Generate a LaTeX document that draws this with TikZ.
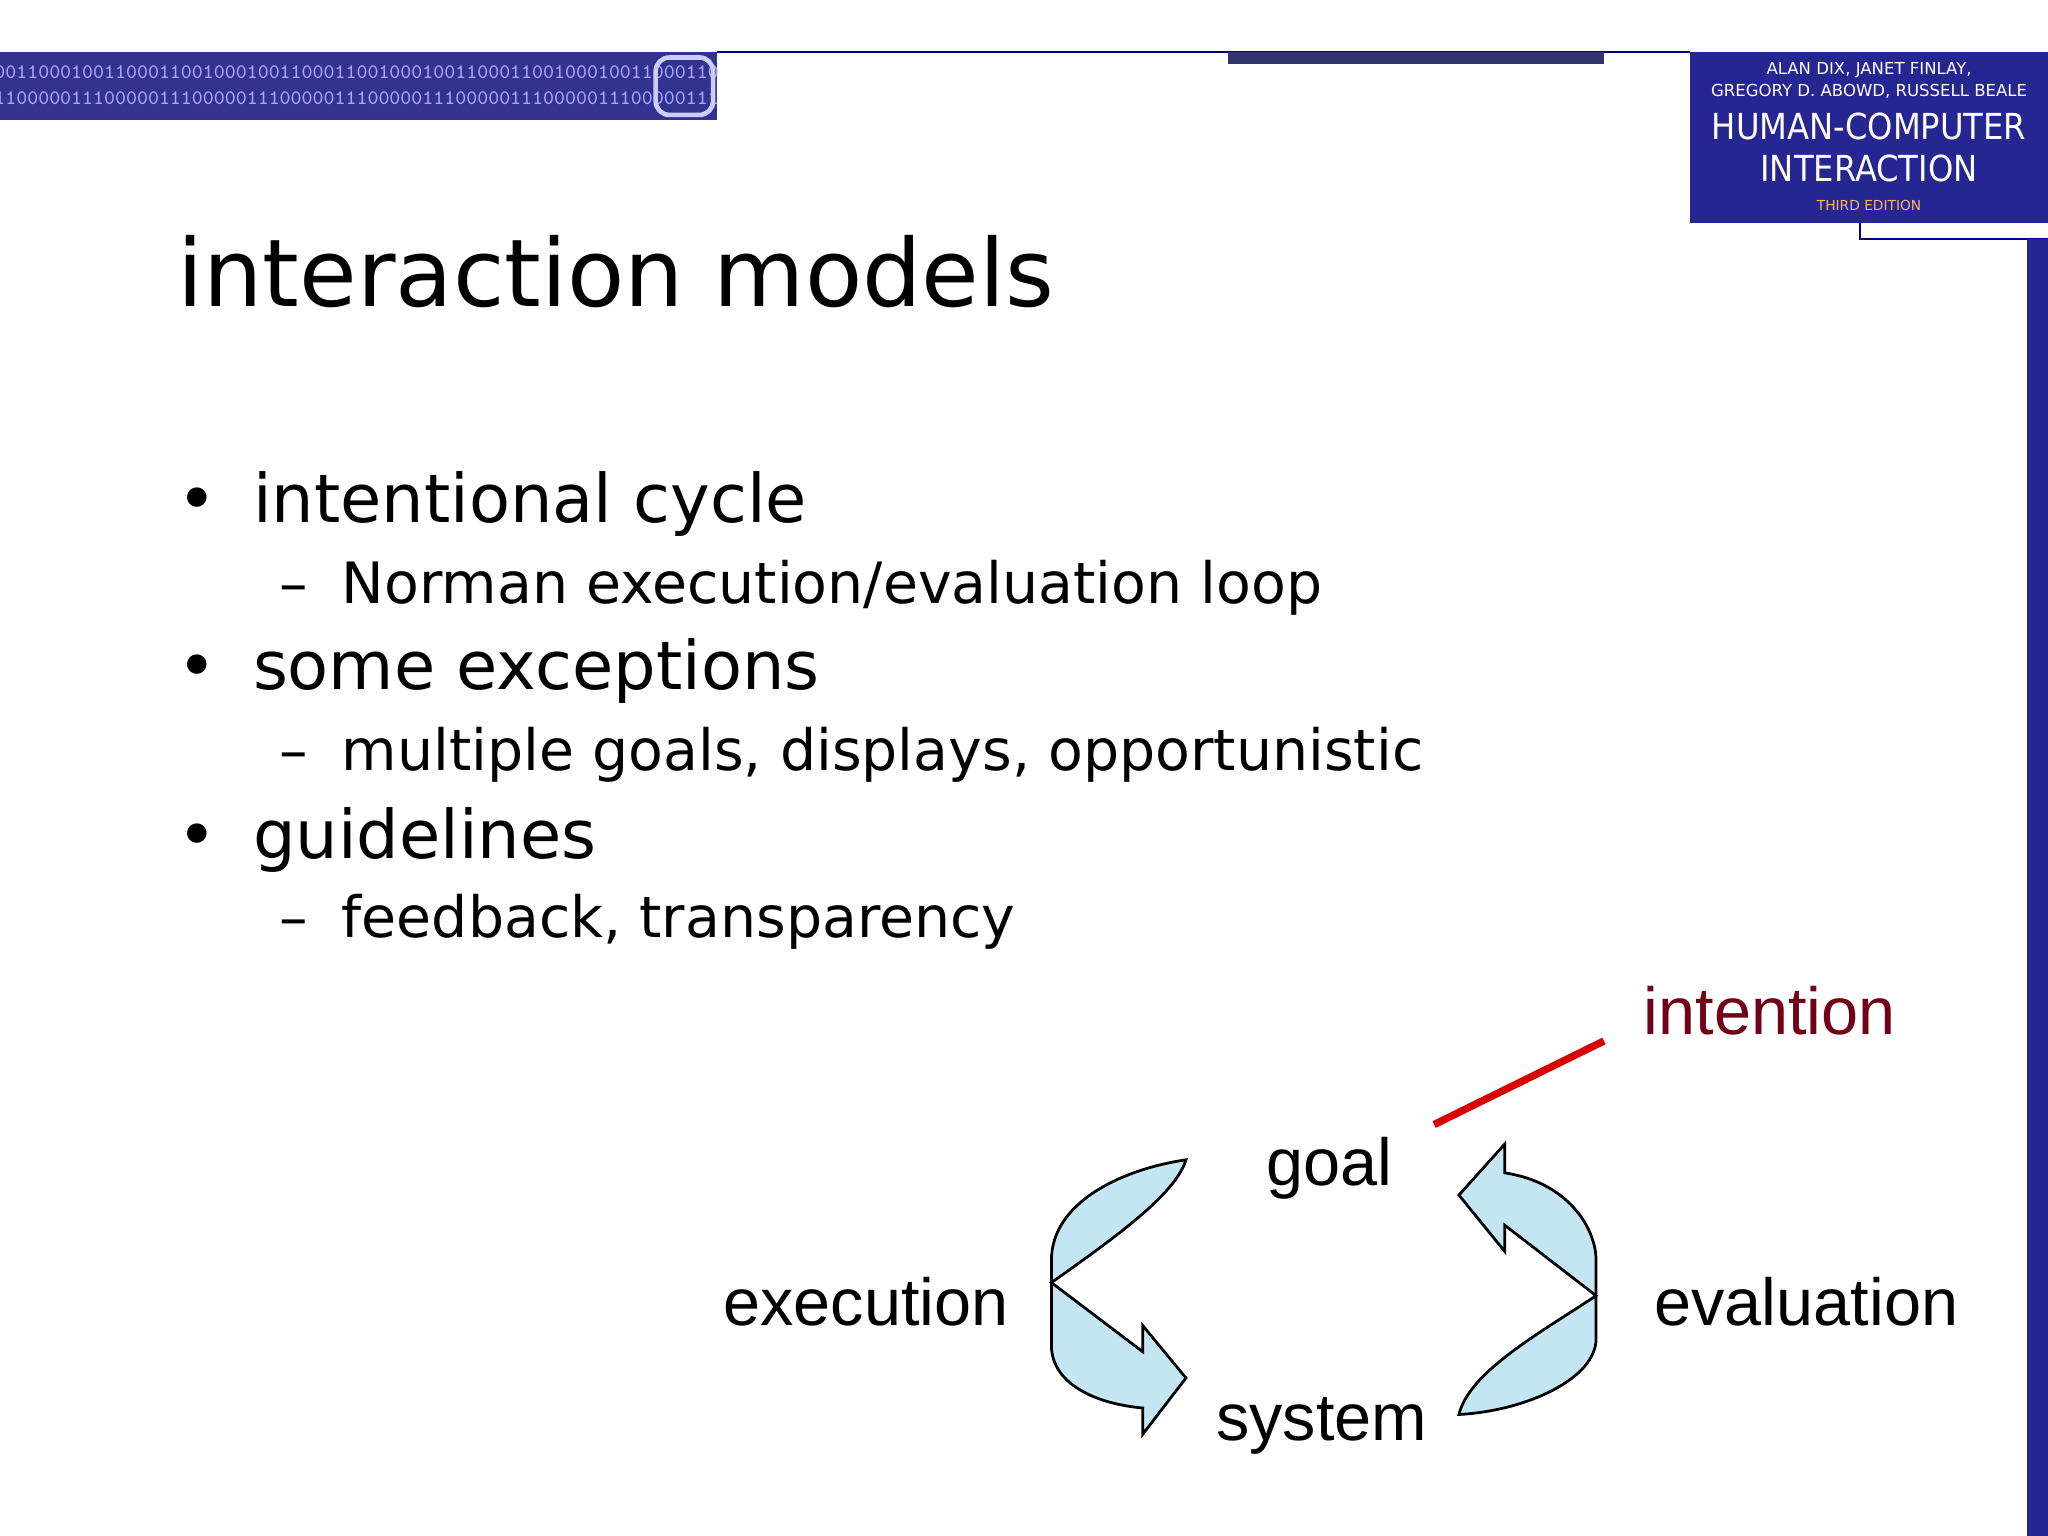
\documentclass[tikz,border=0pt]{standalone}
\usepackage{fontspec}
\setmainfont{DejaVu Sans}
\newfontfamily\arial{Liberation Sans}
\newfontfamily\cond{DejaVu Sans Condensed}
\begin{document}
\begin{tikzpicture}[x=0.01cm,y=-0.01cm,
  txt/.style={anchor=base west,inner sep=0pt},
  main/.style={txt,font=\fontsize{14.6}{16}\selectfont},
  sub/.style={txt,font=\fontsize{12.4}{14}\selectfont},
  lab/.style={anchor=base,inner sep=0pt,font=\arial\fontsize{14.5}{16}\selectfont},
  cyc/.style={draw=black,line width=0.6pt,fill=cyan!22!white!92!gray,line join=miter}]
\useasboundingbox (0,0) rectangle (1568,1176);
\fill[white] (0,0) rectangle (1568,1176);
% banner
\fill[blue!45!black!80] (0,40) rectangle (549,92);
\begin{scope}
\clip (0,40) rectangle (549,92);
\node[txt,text=blue!35!white,font=\ttfamily\fontsize{4.5}{5}\selectfont] (b1) at (-5,60) {0011000100110001100100010011000110010001001100011001000100110001100100010011000110010001};
\node[txt,text=blue!35!white,font=\ttfamily\fontsize{4.5}{5}\selectfont] (b2) at (-5,80) {1100000111000001110000011100000111000001110000011100000111000001110000011100000111000001};
\end{scope}
\draw[white!80!blue,line width=1pt,rounded corners=3pt] (502,44) rectangle (546,88);
\draw[blue!50!black] (549,40) -- (1294,40);
\fill[blue!30!black!80] (940,40) rectangle (1228,49);
% book cover
\fill[blue!50!black!85] (1294,40) rectangle (1568,171);
\node[anchor=center,text=white,font=\fontsize{3.6}{4}\selectfont] (c1) at (1431,54) {ALAN DIX, JANET FINLAY,};
\node[anchor=center,text=white,font=\fontsize{3.6}{4}\selectfont] (c2) at (1431,70) {GREGORY D. ABOWD, RUSSELL BEALE};
\node[anchor=center,text=white,font=\cond\fontsize{7.8}{9}\selectfont] (c3) at (1431,97) {HUMAN-COMPUTER};
\node[anchor=center,text=white,font=\cond\fontsize{7.8}{9}\selectfont] (c4) at (1431,129) {INTERACTION};
\node[anchor=center,text=orange!60!white,font=\fontsize{3}{4}\selectfont] (c5) at (1431,157) {THIRD EDITION};
\draw[blue!50!black] (1424,171) -- (1424,183) -- (1568,183);
\fill[blue!50!black!85] (1552,183) rectangle (1568,1176);
% title
\node[txt,font=\fontsize{20.4}{22}\selectfont] (title) at (135,235) {interaction models};
% bullets
\node[main] (d1) at (135,400) {•};
\node[main] (t1) at (193,400) {intentional cycle};
\node[sub] (s1) at (213,462) {–};
\node[sub] (u1) at (261,462) {Norman execution/evaluation loop};
\node[main] (d2) at (135,528) {•};
\node[main] (t2) at (193,528) {some exceptions};
\node[sub] (s2) at (213,590) {–};
\node[sub] (u2) at (261,590) {multiple goals, displays, opportunistic};
\node[main] (d3) at (135,657) {•};
\node[main] (t3) at (193,657) {guidelines};
\node[sub] (s3) at (213,718) {–};
\node[sub] (u3) at (261,718) {feedback, transparency};
% cycle
\node[lab] (goal) at (1018,908) {goal};
\node[lab] (sys) at (1012,1103) {system};
\node[lab] (exe) at (663,1015) {execution};
\node[lab] (eva) at (1383,1015) {evaluation};
\node[lab,text=red!50!black!90!blue] (int) at (1355,792) {intention};
\coordinate (r1) at (1098,861);
\coordinate (r2) at (1228,797);
\draw[red!85!black,line width=1.6pt] (r1) -- (r2);
\draw[cyc] (908,888) .. controls (860,895) and (805,920) .. (805,965) -- (805,1030)
  .. controls (805,1060) and (840,1075) .. (875,1078) -- (875,1098) -- (908,1055)
  -- (875,1015) -- (875,1035) -- (805,982)
  .. controls (850,950) and (900,915) .. (908,888) -- cycle;
\draw[cyc] (1222,992) -- (1152,938) -- (1152,958) -- (1117,915) -- (1152,876) -- (1152,898)
  .. controls (1200,905) and (1222,940) .. (1222,965) -- (1222,1025)
  .. controls (1222,1055) and (1170,1080) .. (1117,1083)
  .. controls (1125,1050) and (1180,1020) .. (1222,992) -- cycle;
\end{tikzpicture}
\end{document}
